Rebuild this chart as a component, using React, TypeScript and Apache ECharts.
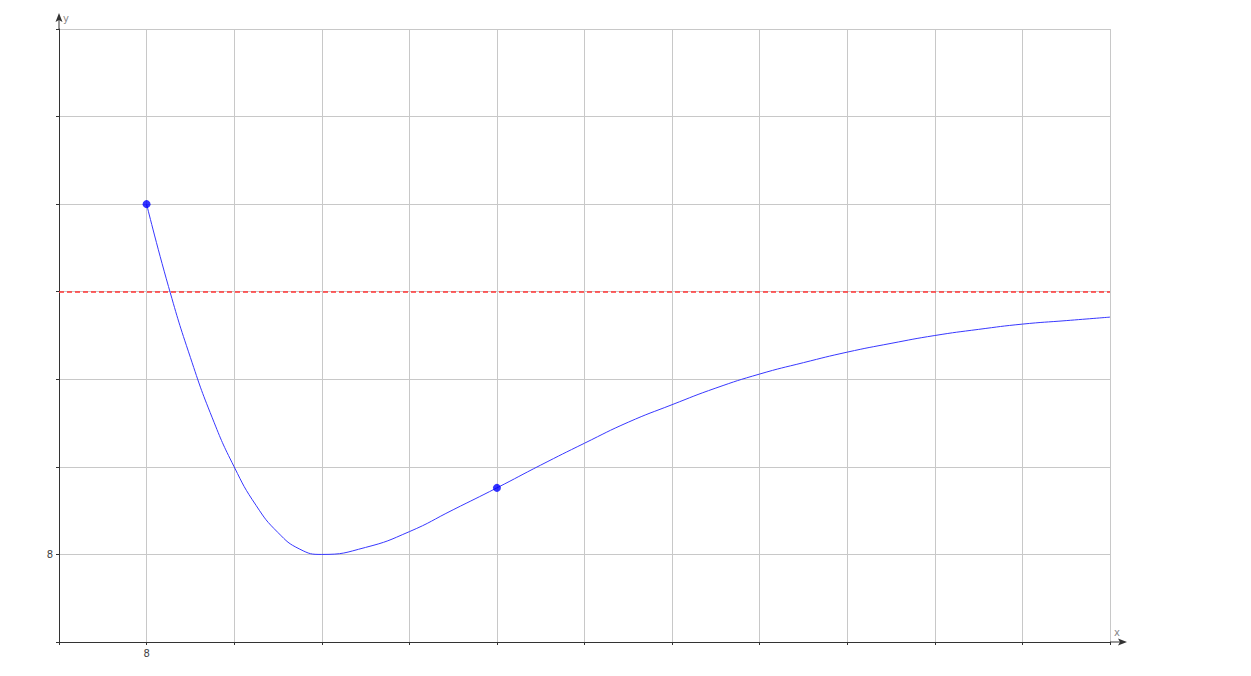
import { useEffect, useRef } from "react";
import * as echarts from "echarts";

// values
const curveX = [
  8, 8.25, 8.5, 8.75, 9, 9.25, 9.5, 9.75, 10, 10.5, 11, 11.5, 12, 12.5, 13, 13.5, 14, 14.5, 15, 15.5, 16, 16.5, 17,
  17.5, 18, 18.5, 19,
];
const curveY = [
  12, 11.06, 10.25, 9.56, 9.0, 8.56, 8.25, 8.06, 8.0, 8.08, 8.26, 8.51, 8.76, 9.02, 9.27, 9.51, 9.71, 9.9, 10.06,
  10.19, 10.31, 10.41, 10.5, 10.57, 10.63, 10.67, 10.71,
];
const markedPoints = [
  [8, 12],
  [12, 8.76],
];
const asymptote = 11;
const xRange = [7, 19];
const yRange = [7, 14];
const labelledTick = 8;

const AXIS = "#333";
const GRID = "#c8c8c8";

export default function App() {
  const ref = useRef<HTMLDivElement>(null);

  useEffect(() => {
    if (!ref.current) return;
    const chart = echarts.init(ref.current, undefined, { renderer: "svg" });

    const axisCommon = {
      type: "value" as const,
      interval: 1,
      axisLine: { show: true, onZero: false, lineStyle: { color: AXIS, width: 1 } },
      axisTick: { show: true, length: 3, lineStyle: { color: AXIS } },
      splitLine: { show: true, lineStyle: { color: GRID, width: 1 } },
      axisLabel: {
        color: "#444",
        fontSize: 10,
        fontFamily: "DejaVu Sans",
        margin: 6,
        formatter: (v: number) => (v === labelledTick ? String(v) : ""),
      },
      nameTextStyle: { color: "#888", fontSize: 10, fontFamily: "DejaVu Sans" },
    };

    chart.setOption({
      animation: false,
      backgroundColor: "#fff",
      grid: { left: 59, right: 141, top: 29, bottom: 34 },
      xAxis: {
        ...axisCommon,
        min: xRange[0],
        max: xRange[1],
        name: "x",
        nameLocation: "end",
        nameGap: 4,
        nameTextStyle: { ...axisCommon.nameTextStyle, align: "left", verticalAlign: "bottom", padding: [0, 0, 5, 0] },
      },
      yAxis: {
        ...axisCommon,
        min: yRange[0],
        max: yRange[1],
        name: "y",
        nameLocation: "end",
        nameGap: 11,
        nameTextStyle: { ...axisCommon.nameTextStyle, align: "left", verticalAlign: "middle", padding: [0, 0, 0, 4] },
      },
      series: [
        {
          type: "line",
          data: curveX.map((x, i) => [x, curveY[i]]),
          smooth: 0.5,
          showSymbol: false,
          lineStyle: { color: "#3838ff", width: 1 },
          markLine: {
            silent: true,
            symbol: "none",
            label: { show: false },
            lineStyle: { color: "#ff3333", width: 1.5, type: [5, 3] },
            data: [{ yAxis: asymptote }],
          },
          z: 3,
        },
        {
          type: "scatter",
          data: markedPoints,
          symbolSize: 8,
          itemStyle: { color: "#0000ff" },
          z: 4,
        },
      ],
    });

    // arrow heads at the ends of both axes
    const [xEnd, y0] = chart.convertToPixel({ gridIndex: 0 }, [xRange[1], yRange[0]]) as number[];
    const [x0, yEnd] = chart.convertToPixel({ gridIndex: 0 }, [xRange[0], yRange[1]]) as number[];
    const head = { fill: AXIS };
    chart.setOption({
      graphic: [
        { type: "line", shape: { x1: xEnd, y1: y0, x2: xEnd + 11, y2: y0 }, style: { stroke: AXIS, lineWidth: 1 } },
        {
          type: "polygon",
          shape: { points: [[xEnd + 17, y0], [xEnd + 8, y0 - 3.5], [xEnd + 10, y0], [xEnd + 8, y0 + 3.5]] },
          style: head,
        },
        { type: "line", shape: { x1: x0, y1: yEnd, x2: x0, y2: yEnd - 10 }, style: { stroke: AXIS, lineWidth: 1 } },
        {
          type: "polygon",
          shape: { points: [[x0, yEnd - 16], [x0 - 3.5, yEnd - 7], [x0, yEnd - 9], [x0 + 3.5, yEnd - 7]] },
          style: head,
        },
      ],
    });

    return () => chart.dispose();
  }, []);

  return <div ref={ref} style={{ position: "absolute", left: 0, top: 0, width: 1251, height: 676 }} />;
}
